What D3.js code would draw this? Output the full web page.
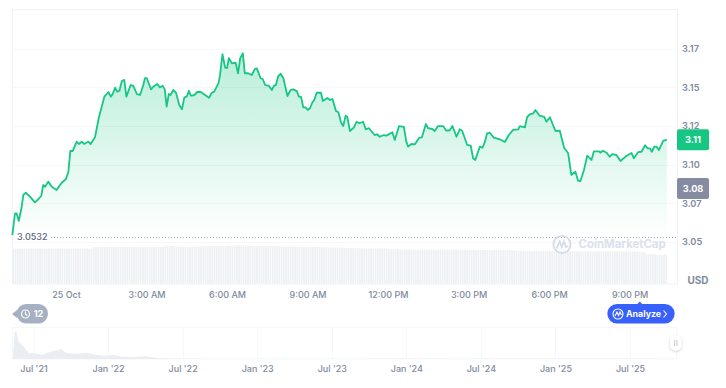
<!DOCTYPE html>
<html><head><meta charset="utf-8">
<script src="https://cdn.jsdelivr.net/npm/d3@7"></script>
<style>html,body{margin:0;padding:0;background:#fff}svg{display:block}text{font-family:Inter,sans-serif}</style>
</head><body><svg id="c" width="726" height="388"></svg>
<script>
const hours=[-2.00,-1.90,-1.84,-1.76,-1.65,-1.59,-1.50,-1.34,-1.16,-1.03,-0.92,-0.85,-0.78,-0.66,-0.53,-0.35,-0.16,0,0.09,0.16,0.25,0.40,0.48,0.59,0.67,0.83,0.92,1.08,1.23,1.30,1.43,1.58,1.67,1.74,1.83,1.91,1.99,2.08,2.17,2.25,2.41,2.51,2.64,2.76,2.88,2.94,3.01,3.17,3.25,3.40,3.50,3.60,3.68,3.75,3.83,3.90,4.00,4.10,4.22,4.32,4.41,4.50,4.58,4.65,4.77,4.89,5.02,5.33,5.43,5.52,5.68,5.74,5.83,5.93,6.00,6.07,6.18,6.32,6.41,6.49,6.59,6.66,6.79,6.92,7.04,7.11,7.25,7.33,7.42,7.55,7.67,7.75,7.82,7.91,8.00,8.10,8.25,8.37,8.47,8.60,8.68,8.76,8.84,8.92,9.01,9.09,9.19,9.25,9.34,9.50,9.57,9.74,9.84,9.93,10.06,10.15,10.25,10.33,10.42,10.48,10.58,10.73,10.83,10.93,11.07,11.17,11.29,11.50,11.59,11.69,11.84,11.94,12.16,12.25,12.41,12.59,12.68,12.75,12.87,13.00,13.16,13.26,13.41,13.49,13.65,13.74,13.86,14.05,14.17,14.30,14.40,14.55,14.67,14.76,14.95,15.08,15.17,15.25,15.42,15.52,15.61,15.69,15.79,15.94,16.14,16.35,16.50,16.66,16.85,16.91,17.10,17.18,17.28,17.41,17.49,17.65,17.82,17.90,18.03,18.12,18.24,18.40,18.56,18.71,18.83,18.98,19.08,19.17,19.30,19.42,19.58,19.67,19.86,19.91,20.01,20.14,20.26,20.36,20.51,20.66,20.88,21.07,21.16,21.32,21.44,21.58,21.67,21.76,21.83,21.92,22.00,22.09,22.25,22.39];
const prices=[3.0545,3.0685,3.0685,3.0636,3.0728,3.0804,3.0818,3.0793,3.0756,3.0776,3.0799,3.0868,3.0857,3.0890,3.0857,3.0836,3.0883,3.0907,3.0954,3.1088,3.1088,3.1148,3.1133,3.1148,3.1133,3.1148,3.1133,3.1176,3.1309,3.1353,3.1439,3.1469,3.1439,3.1456,3.1497,3.1471,3.1477,3.1540,3.1547,3.1439,3.1514,3.1508,3.1456,3.1450,3.1514,3.1558,3.1558,3.1486,3.1503,3.1521,3.1499,3.1510,3.1486,3.1374,3.1456,3.1450,3.1482,3.1464,3.1385,3.1357,3.1435,3.1439,3.1477,3.1445,3.1448,3.1469,3.1469,3.1432,3.1464,3.1471,3.1525,3.1579,3.1713,3.1626,3.1624,3.1687,3.1654,3.1658,3.1590,3.1687,3.1719,3.1590,3.1590,3.1579,3.1618,3.1622,3.1558,3.1553,3.1514,3.1510,3.1482,3.1510,3.1514,3.1572,3.1587,3.1558,3.1443,3.1482,3.1486,3.1475,3.1439,3.1437,3.1370,3.1370,3.1353,3.1364,3.1406,3.1417,3.1464,3.1464,3.1411,3.1430,3.1417,3.1424,3.1346,3.1338,3.1271,3.1249,3.1316,3.1309,3.1217,3.1241,3.1277,3.1267,3.1277,3.1228,3.1235,3.1191,3.1196,3.1180,3.1191,3.1187,3.1209,3.1159,3.1249,3.1243,3.1148,3.1116,3.1133,3.1131,3.1174,3.1176,3.1262,3.1235,3.1230,3.1217,3.1249,3.1249,3.1219,3.1222,3.1249,3.1180,3.1228,3.1219,3.1127,3.1122,3.1041,3.1030,3.1116,3.1109,3.1148,3.1202,3.1206,3.1174,3.1165,3.1146,3.1191,3.1224,3.1228,3.1249,3.1241,3.1306,3.1325,3.1331,3.1353,3.1316,3.1308,3.1277,3.1306,3.1267,3.1217,3.1219,3.1109,3.1073,3.0933,3.0954,3.0896,3.0894,3.0965,3.1058,3.1030,3.1086,3.1086,3.1077,3.1090,3.1077,3.1051,3.1067,3.1062,3.1023,3.1056,3.1075,3.1041,3.1081,3.1083,3.1125,3.1105,3.1105,3.1083,3.1116,3.1116,3.1094,3.1154,3.1161];
const volumes=[
3.50,3.50,3.50,3.50,3.50,3.50,3.50,3.50,3.50,3.50,3.50,3.50,
3.50,3.50,3.50,3.50,3.50,3.50,3.50,3.50,3.50,3.50,3.50,3.50,
3.50,3.50,3.50,3.50,3.50,3.50,3.50,3.50,3.50,3.50,3.50,3.50,
3.62,3.64,3.64,3.64,3.64,3.64,3.64,3.64,3.64,3.64,3.64,3.64,
3.64,3.64,3.64,3.64,3.64,3.64,3.64,3.64,3.64,3.64,3.64,3.64,
3.64,3.64,3.66,3.66,3.66,3.66,3.66,3.66,3.72,3.72,3.74,3.74,
3.72,3.70,3.68,3.68,3.68,3.68,3.68,3.68,3.68,3.68,3.70,3.70,
3.72,3.72,3.72,3.72,3.72,3.72,3.72,3.72,3.74,3.74,3.74,3.74,
3.76,3.78,3.78,3.80,3.82,3.82,3.82,3.82,3.80,3.78,3.78,3.76,
3.74,3.74,3.74,3.74,3.74,3.74,3.74,3.74,3.74,3.74,3.74,3.74,
3.70,3.70,3.70,3.70,3.68,3.68,3.68,3.68,3.66,3.66,3.66,3.66,
3.66,3.66,3.66,3.66,3.66,3.66,3.62,3.62,3.62,3.60,3.60,3.60,
3.58,3.58,3.58,3.58,3.56,3.56,3.56,3.54,3.54,3.54,3.54,3.52,
3.52,3.52,3.50,3.50,3.50,3.50,3.50,3.52,3.52,3.50,3.50,3.50,
3.46,3.46,3.40,3.42,3.46,3.44,3.40,3.40,3.40,3.40,3.40,3.40,
3.38,3.38,3.38,3.38,3.38,3.38,3.38,3.38,3.38,3.38,3.38,3.38,
3.38,3.38,3.38,3.38,3.38,3.38,3.38,3.38,3.38,3.38,3.38,3.38,
3.36,3.36,3.36,3.36,3.36,3.36,3.36,3.36,3.36,3.36,3.36,3.36,
3.36,3.36,3.36,3.36,3.34,3.34,3.34,3.34,3.30,3.30,3.28,3.28,
3.24,3.24,3.24,3.24,3.24,3.24,3.24,3.24,3.24,3.24,3.24,3.24,
3.24,3.24,3.24,3.24,3.24,3.24,3.24,3.24,3.24,3.24,3.24,3.24,
3.22,3.22,3.22,3.22,3.22,3.22,3.22,3.22,3.22,3.22,3.22,3.22,
3.22,3.22,3.22,3.22,3.22,3.22,3.22,3.22,3.22,3.22,3.22,3.22,
3.20,3.20,3.20,3.20,3.18,3.18,3.14,2.94,2.92,2.92,2.92,2.92,
2.90,2.90,2.90,2.90,2.90];
const timeTicks=[0,3,6,9,12,15,18,21];
const timeLabels=["25 Oct","3:00 AM","6:00 AM","9:00 AM","12:00 PM","3:00 PM","6:00 PM","9:00 PM"];
const priceTicks=[3.05,3.075,3.10,3.125,3.15,3.175];
const priceLabels=["3.05","3.07","3.10","3.12","3.15","3.17"];
const openPrice=3.0532, lastPrice=3.1161, prevClose=3.0845;
const openLabel="3.0532", lastLabel="3.11", prevLabel="3.08", unitLabel="USD";
const navMonths=[-1.66,-1.52,-1.39,-1.18,-0.78,-0.38,0,0.70,1.37,2.23,2.71,3.64,4.32,5.12,5.63,6.43,7.14,8.04,9.01,9.97,11.26,14,20,26,30,34,40,45,51.8];
const navValues=[0,27.3,28,17.3,12.3,5.7,5.7,4.3,7.3,9.7,5.7,5.3,6.3,4,3.3,4,2.3,2,2.7,1,0.4,0.3,0.2,0.3,0.4,0.3,0.5,0.5,0.2];
const navTicks=[0,6,12,18,24,30,36,42,48];
const navLabels=["Jul '21","Jan '22","Jul '22","Jan '23","Jul '23","Jan '24","Jul '24","Jan '25","Jul '25"];
const replayCount="12", analyzeLabel="Analyze", brand="CoinMarketCap";

const svg=d3.select("#c");
const L=12,R=677,T=9,B=283.5;
const x=d3.scaleLinear().domain([0,21]).range([66,629.6]);
const y=d3.scaleLinear().domain([3.05,3.175]).range([242,48.5]);
const v=d3.scaleLinear().domain([0,4]).range([B,B-40]);
const nx=d3.scaleLinear().domain([0,48]).range([33.5,630]);
const ny=d3.scaleLinear().domain([0,32]).range([359,327]);
const green="#16c784",border="#eff2f5",grid="#f6f7f9",axisC="#808a9d";

const defs=svg.append("defs");
const g=defs.append("linearGradient").attr("id","gr").attr("gradientUnits","userSpaceOnUse")
 .attr("x1",0).attr("x2",0).attr("y1",y(3.172)).attr("y2",y(openPrice));
g.append("stop").attr("offset",0).attr("stop-color",green).attr("stop-opacity",0.3);
g.append("stop").attr("offset",1).attr("stop-color",green).attr("stop-opacity",0);
const sh=defs.append("filter").attr("id","sh").attr("x","-50%").attr("y","-50%").attr("width","200%").attr("height","200%");
sh.append("feDropShadow").attr("dx",0).attr("dy",1).attr("stdDeviation",1.5).attr("flood-color","#58667e").attr("flood-opacity",0.3);

// frame and grid
svg.append("rect").attr("x",L+.5).attr("y",T+.5).attr("width",R-L).attr("height",B-T).attr("fill","none").attr("stroke",border);
svg.append("g").selectAll("line").data(priceTicks).join("line")
 .attr("x1",L).attr("x2",R).attr("y1",d=>Math.round(y(d))+.5).attr("y2",d=>Math.round(y(d))+.5).attr("stroke",grid).attr("stroke-width",1);

// volume
const bw=x(1/12)-x(0);
svg.append("g").selectAll("rect").data(volumes).join("rect")
 .attr("x",(d,i)=>x(-2+i/12)).attr("width",bw-0.45)
 .attr("y",d=>v(d)).attr("height",d=>v(0)-v(d)).attr("fill","#eef1f4");

// price
const pts=hours.map((h,i)=>[h,prices[i]]);
svg.append("path").datum(pts).attr("fill","url(#gr)")
 .attr("d",d3.area().x(d=>x(d[0])).y0(y(openPrice)).y1(d=>y(d[1])));
svg.append("path").datum(pts).attr("fill","none").attr("stroke",green).attr("stroke-width",1.8).attr("stroke-linejoin","round")
 .attr("d",d3.line().x(d=>x(d[0])).y(d=>y(d[1])));

// open reference
svg.append("line").attr("x1",51).attr("x2",R).attr("y1",Math.round(y(openPrice))+.5).attr("y2",Math.round(y(openPrice))+.5)
 .attr("stroke","#a6b0c3").attr("stroke-dasharray","1 2");
svg.append("text").attr("x",17).attr("y",y(openPrice)+1).attr("dominant-baseline","middle").attr("font-size",9).attr("font-weight",500).attr("fill","#58667e").text(openLabel);

// watermark
const wm=svg.append("g").attr("fill","none").attr("stroke","#d5dbe8").attr("stroke-width",1.8);
wm.append("circle").attr("cx",562).attr("cy",244.5).attr("r",8.6);
wm.append("path").attr("d","M556.5 248.5 L559.8 241.5 L561.8 247 L564 241.5 L566 247 L568.5 246");
svg.append("text").attr("x",578.5).attr("y",245).attr("dominant-baseline","middle").attr("font-size",11.4).attr("font-weight",700).attr("fill","#dbe1ec").text(brand);

// axes
const ay=svg.append("g").attr("transform",`translate(${R+5},0)`)
 .call(d3.axisRight(y).tickValues(priceTicks).tickSize(0).tickPadding(0).tickFormat((d,i)=>priceLabels[i]));
ay.select(".domain").remove();
ay.selectAll("text").attr("font-size",9.2).attr("font-weight",600).attr("fill",axisC).attr("font-family","Inter,sans-serif");
const ax=svg.append("g").attr("transform","translate(0,291.5)")
 .call(d3.axisBottom(x).tickValues(timeTicks).tickSize(0).tickPadding(0).tickFormat((d,i)=>timeLabels[i]));
ax.select(".domain").remove();
ax.selectAll("text").attr("font-size",9).attr("font-weight",500).attr("fill",axisC).attr("font-family","Inter,sans-serif");
svg.append("text").attr("x",698).attr("y",281.5).attr("text-anchor","middle").attr("dominant-baseline","middle").attr("font-size",10).attr("font-weight",700).attr("fill",axisC).text(unitLabel);

// badges
function badge(val,label,col){
 const c=y(val);
 svg.append("rect").attr("x",677).attr("y",c-10.5).attr("width",32).attr("height",21).attr("rx",2).attr("fill",col);
 svg.append("text").attr("x",693).attr("y",c+.5).attr("text-anchor","middle").attr("dominant-baseline","middle").attr("font-size",9.2).attr("font-weight",700).attr("fill","#fff").text(label);
}
badge(lastPrice,lastLabel,green);
badge(prevClose,prevLabel,"#858ca2");

// navigator
svg.append("rect").attr("x",L+.5).attr("y",327.5).attr("width",R-L-1).attr("height",31.5).attr("fill","none").attr("stroke",grid);
svg.append("g").selectAll("line").data(navTicks).join("line")
 .attr("x1",d=>Math.round(nx(d))+.5).attr("x2",d=>Math.round(nx(d))+.5).attr("y1",327).attr("y2",359).attr("stroke",grid);
svg.append("path").datum(navMonths.map((m,i)=>[m,navValues[i]])).attr("fill","#eaeef2")
 .attr("d",d3.area().x(d=>nx(d[0])).y0(ny(0)).y1(d=>ny(d[1])));
const an=svg.append("g").attr("transform","translate(0,365.5)")
 .call(d3.axisBottom(nx).tickValues(navTicks).tickSize(0).tickPadding(0).tickFormat((d,i)=>navLabels[i]));
an.select(".domain").remove();
an.selectAll("text").attr("font-size",9).attr("font-weight",500).attr("fill",axisC).attr("font-family","Inter,sans-serif");

// replay pill
svg.append("path").attr("d","M12 314 L17 310 L17 318 Z").attr("fill","#a6b0c3");
svg.append("rect").attr("x",16.5).attr("y",304).attr("width",31.5).attr("height",19.5).attr("rx",9.75).attr("fill","#a6b0c3");
const ck=svg.append("g").attr("fill","none").attr("stroke","#fff").attr("stroke-width",1.2);
ck.append("circle").attr("cx",25.5).attr("cy",314).attr("r",4);
ck.append("path").attr("d","M25.5 311.5 V314.3 L27.5 315.5");
svg.append("text").attr("x",38.5).attr("y",314.5).attr("text-anchor","middle").attr("dominant-baseline","middle").attr("font-size",9.2).attr("font-weight",700).attr("fill","#fff").text(replayCount);

// analyze pill
svg.append("path").attr("d","M637 304.5 L639.8 301.5 L642.6 304.5 Z").attr("fill","#3861fb");
svg.append("rect").attr("x",607.3).attr("y",304).attr("width",67.4).attr("height",19.5).attr("rx",9.75).attr("fill","#3861fb");
const an2=svg.append("g").attr("fill","none").attr("stroke","#fff").attr("stroke-width",1.1);
an2.append("circle").attr("cx",618).attr("cy",314).attr("r",5);
an2.append("path").attr("d","M615 316 L617 312 L618.5 315.5 L620 312 L621.5 315");
svg.append("text").attr("x",626).attr("y",314.2).attr("dominant-baseline","middle").attr("font-size",8.8).attr("font-weight",700).attr("fill","#fff").text(analyzeLabel);
svg.append("path").attr("d","M663.5 310.5 L666.5 314 L663.5 317.5").attr("fill","none").attr("stroke","#fff").attr("stroke-width",1.1);

// handle
svg.append("rect").attr("x",670).attr("y",335.5).attr("width",11.5).attr("height",15).attr("rx",5).attr("fill","#fff").attr("filter","url(#sh)");
svg.append("path").attr("d","M674.7 340 V346 M677 340 V346").attr("stroke","#c4cad6").attr("stroke-width",1);
</script></body></html>
